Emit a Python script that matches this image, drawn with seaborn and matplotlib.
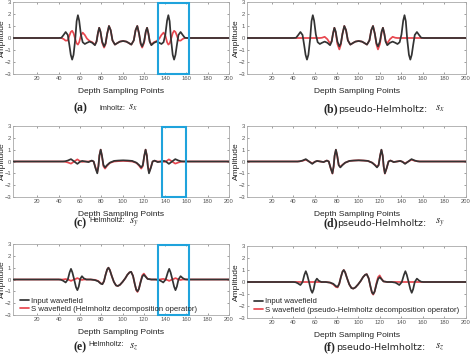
import matplotlib
matplotlib.use('Agg')
import matplotlib.pyplot as plt
from matplotlib.patches import Rectangle
import seaborn as sns

# ---- data (depth sample, amplitude) ----
# s_x component: input wavefield and the two S-wave results
depth_sx = [-3, 40, 42.5, 44.5, 46.5, 48.5, 50, 51.3, 52.6, 53.9, 55.5, 56.8, 58, 59.2, 60.8, 62.5,
            64.5, 66.5, 69, 71.5, 74, 75.5, 76.8, 78, 79.2, 80.8, 82.6, 84, 85.5, 87.2, 88.8,
            90.5, 92.8, 95.5, 97.5, 100.5, 103.5, 105.5, 108.2, 110.5, 112.2, 113.8, 115.5, 117,
            118.4, 120.2, 121.8, 123, 124.2, 125.5, 127, 129.5, 132, 134.5, 136.5, 138.5, 140.2,
            141.8, 143, 144.2, 145.5, 147.1, 148.4, 149.7, 151, 152.5, 154.5, 156.5, 158.5, 161, 200]
input_sx = [0, 0, 0.02, 0.25, 0.5, 0.25, -0.6, -1.4, -1.8, -1.4, -0.1, 1.4, 1.9, 1.45, 0.3, -0.35,
            -0.5, -0.4, -0.3, -0.4, -0.6, -0.3, 0.4, 0.85, 0.55, -0.3, -0.7, -0.45, 0.35, 1.0, 0.65,
            -0.2, -0.55, -0.4, -0.3, -0.25, -0.3, -0.4, -0.55, -0.2, 0.65, 1.0, 0.35, -0.45,
            -0.7, -0.3, 0.55, 0.85, 0.4, -0.3, -0.6, -0.4, -0.3, -0.4, -0.5, -0.35, 0.3,
            1.45, 1.9, 1.4, -0.1, -1.4, -1.8, -1.4, -0.6, 0.25, 0.5, 0.25, 0.02, 0, 0]
helm_sx = [0, 0, 0, -0.08, -0.22, -0.2, 0.2, 0.5, 0.6, 0.4, -0.1, -0.45, -0.55, -0.35, 0.2, 0.45,
           0.25, -0.05, -0.25, -0.35, -0.55, -0.3, 0.4, 0.85, 0.5, -0.4, -0.8, -0.5, 0.35, 1.0, 0.65,
           -0.2, -0.55, -0.4, -0.3, -0.25, -0.3, -0.4, -0.55, -0.2, 0.65, 1.0, 0.35, -0.5,
           -0.8, -0.4, 0.5, 0.85, 0.4, -0.3, -0.55, -0.35, -0.25, -0.05, 0.25, 0.45, 0.2,
           -0.35, -0.55, -0.45, -0.1, 0.4, 0.6, 0.5, 0.2, -0.2, -0.22, -0.08, 0, 0, 0]
pseudo_sx = [0, 0, 0, 0, 0, 0, 0, 0, 0, 0, 0, 0, 0, 0, 0, 0,
             0, 0.02, 0.1, -0.1, -0.45, -0.25, 0.4, 0.85, 0.45, -0.5, -0.95, -0.55, 0.35, 1.0, 0.65,
             -0.2, -0.55, -0.4, -0.3, -0.25, -0.3, -0.4, -0.55, -0.2, 0.65, 1.0, 0.35, -0.55,
             -0.95, -0.5, 0.45, 0.85, 0.4, -0.25, -0.45, -0.1, 0.1, 0.02, 0, 0, 0,
             0, 0, 0, 0, 0, 0, 0, 0, 0, 0, 0, 0, 0, 0]

# s_y component
depth_sy = [-3, 44, 46, 48.5, 51.5, 54.5, 57.5, 60, 62, 65, 68, 71, 72.8, 74.5, 76.2, 77.3, 78.2,
            79.4, 80.6, 82, 83.5, 85.5, 88, 92, 96, 100.5, 105, 109, 113, 115.5, 117.5, 119,
            120.4, 121.6, 122.8, 123.7, 124.8, 126.5, 128.2, 130, 133, 136, 139, 141, 143.5,
            146.5, 149.5, 152.5, 155, 157, 200]
input_sy = [0, 0, 0.02, 0.08, 0.2, 0, -0.2, -0.02, 0.05, 0, -0.05, 0.08, 0, -0.55, -1.0, -0.4, 0.5,
            1.0, 0.5, -0.3, -0.5, -0.3, -0.1, 0.05, 0.08, 0.1, 0.08, 0.05, -0.1, -0.3, -0.5, -0.3,
            0.5, 1.0, 0.5, -0.4, -1.0, -0.55, 0, 0.08, -0.05, 0, 0.05, -0.02, -0.2,
            0, 0.2, 0.08, 0.02, 0, 0]
helm_sy = [0, 0, -0.02, -0.08, -0.18, 0, 0.18, 0.02, -0.03, 0, 0, 0.05, 0, -0.5, -0.9, -0.35, 0.5,
           1.0, 0.45, -0.4, -0.6, -0.35, -0.12, 0, 0.03, 0.05, 0.03, 0, -0.12, -0.35, -0.6, -0.4,
           0.45, 1.0, 0.5, -0.35, -0.9, -0.5, 0, 0.05, 0, 0, -0.03, 0.02, 0.18,
           0, -0.18, -0.08, -0.02, 0, 0]
pseudo_sy = [0, 0, 0.02, 0.06, 0.15, 0, -0.15, -0.02, 0.04, 0, -0.04, 0.08, 0, -0.55, -1.02, -0.45, 0.45,
             0.98, 0.5, -0.3, -0.45, -0.28, -0.1, 0.05, 0.08, 0.1, 0.08, 0.05, -0.1, -0.28, -0.45, -0.3,
             0.5, 0.98, 0.45, -0.45, -1.02, -0.55, 0, 0.08, -0.04, 0, 0.04, -0.02, -0.15,
             0, 0.15, 0.06, 0.02, 0, 0]

# s_z component
depth_sz = [-3, 40, 42, 44, 46.5, 48.5, 50.2, 51.5, 52.8, 54.5, 56.2, 57.5, 58.8, 60.2, 61.8,
            63.5, 66, 70, 74, 77, 79.5, 81, 82.5, 84, 85.5, 86.7, 88, 89.8, 91.8, 93.8,
            95.5, 97.5, 100, 102.5, 104.5, 106.5, 108, 109.8, 111.5, 112.8, 114, 115.3, 117, 118.5,
            120, 121.5, 123.5, 127, 131, 134.5, 136.5, 138.2, 140.5, 142.5, 143.8, 145.1, 146.8,
            148.4, 149.7, 151, 152.5, 154.5, 156.5, 158.5, 160.5, 200]
input_sz = [0, 0, -0.02, -0.1, -0.25, 0, 0.6, 0.9, 0.6, 0, -0.65, -0.9, -0.6, 0.05, 0.28,
            0.1, 0, 0, -0.05, -0.15, -0.35, -0.4, -0.15, 0.4, 0.85, 1.0, 0.8, 0.3, -0.2, -0.5,
            -0.55, -0.45, -0.2, 0.1, 0.4, 0.6, 0.65, 0.3, -0.4, -0.85, -1.0, -0.8, -0.2, 0.25,
            0.4, 0.25, 0.05, 0, 0, -0.05, -0.15, -0.25, 0, 0.6, 0.9, 0.6, 0,
            -0.6, -0.9, -0.6, 0, 0.28, 0.12, 0.02, 0, 0]
helm_sz = [0, 0, 0, 0, 0.04, 0, -0.06, -0.12, -0.06, 0, 0.06, 0.12, 0.06, 0, -0.04,
           0, 0, 0, -0.03, -0.12, -0.32, -0.38, -0.15, 0.4, 0.85, 1.0, 0.8, 0.3, -0.2, -0.5,
           -0.55, -0.45, -0.2, 0.1, 0.4, 0.6, 0.65, 0.3, -0.4, -0.9, -1.05, -0.8, -0.15, 0.35,
           0.5, 0.3, 0.05, 0, 0, 0, 0.03, 0.05, 0, -0.06, -0.12, -0.06, 0,
           0.06, 0.12, 0.06, 0, -0.04, 0, 0, 0, 0]
pseudo_sz = [0, 0, 0, 0, 0, 0, 0, 0, 0, 0, 0, 0, 0, 0, 0,
             0, 0, 0, -0.05, -0.2, -0.42, -0.45, -0.15, 0.4, 0.85, 1.0, 0.8, 0.3, -0.2, -0.5,
             -0.55, -0.45, -0.2, 0.1, 0.4, 0.6, 0.65, 0.3, -0.4, -0.9, -1.05, -0.8, -0.1, 0.4,
             0.55, 0.3, 0.05, 0, 0, 0, 0, 0, 0, 0, 0, 0, 0,
             0, 0, 0, 0, 0, 0, 0, 0, 0]

panel_tags = ['(a)', '(b)', '(c)', '(d)', '(e)', '(f)']
panel_names = ['lmholtz:', 'pseudo-Helmholtz:', 'Helmholtz:', 'pseudo-Helmholtz:',
               'Helmholtz:', 'pseudo-Helmholtz:']
panel_comps = [r'$s_x$', r'$s_x$', r'$s_y$', r'$s_y$', r'$s_z$', r'$s_z$']
legend_labels = ['Input wavefield',
                 'S wavefield (Helmholtz decomposition operator)',
                 'S wavefield (pseudo-Helmholtz decomposition operator)']
x_ticks = [20, 40, 60, 80, 100, 120, 140, 160, 180, 200]
y_ticks = [-3, -2, -1, 0, 1, 2, 3]

# ---- style ----
sns.set_theme(style='white')
plt.rcParams['font.family'] = ['Liberation Sans', 'DejaVu Sans']
plt.rcParams['mathtext.fontset'] = 'stix'

W, H = 474, 354
fig = plt.figure(figsize=(W / 100, H / 100), dpi=100)

BLACK = '#333333'
RED = '#e8474f'
BLUE = '#1fa3dc'
FRAME = '#a8a8a8'

# axes boxes in pixels: left, top, right, bottom
boxes_px = [(13, 2, 229, 74), (247, 2, 466, 74),
            (13, 126, 229, 197), (247, 126, 466, 197),
            (13, 244, 229, 315), (247, 246, 466, 318)]

curves = [(depth_sx, input_sx, helm_sx), (depth_sx, input_sx, pseudo_sx),
          (depth_sy, input_sy, helm_sy), (depth_sy, input_sy, pseudo_sy),
          (depth_sz, input_sz, helm_sz), (depth_sz, input_sz, pseudo_sz)]

# blue highlight windows (depth range) on the Helmholtz panels
highlight = {0: (133.5, 162.5), 2: (137.5, 159.5), 4: (133.5, 162.5)}

# caption positions in pixels: tag x, name x, comp x, y
captions_px = [(73, 100, 128, 108), (323, 338, 435, 109),
               (73, 89, 129, 223), (323, 337, 435, 223),
               (73, 88, 129, 347), (323, 336, 435, 347)]

for i, (l, t, r, b) in enumerate(boxes_px):
    ax = fig.add_axes([l / W, 1 - b / H, (r - l) / W, (b - t) / H])
    depth, inp, swave = curves[i]
    sns.lineplot(x=depth, y=swave, ax=ax, color=RED, lw=1.25, sort=False,
                 estimator=None, zorder=2)
    sns.lineplot(x=depth, y=inp, ax=ax, color=BLACK, lw=1.25, sort=False,
                 estimator=None, zorder=3)
    ax.set_xlim(-3, 200)
    ax.set_ylim(-3, 3)
    ax.set_xticks(x_ticks)
    ax.set_yticks(y_ticks)
    ax.tick_params(direction='in', length=1.5, width=0.5, color='#777777',
                   labelsize=4.2, labelcolor='#555555', pad=1.2,
                   top=True, right=True, bottom=True, left=True)
    for sp in ax.spines.values():
        sp.set_color(FRAME)
        sp.set_linewidth(0.6)
    ax.set_xlabel('Depth Sampling Points', fontsize=6, labelpad=5, color='#222222')
    ax.set_ylabel('Amplitude', fontsize=6, color='#222222')
    # label hugs the tick numbers: its right edge 7 px left of the frame
    ax.yaxis.set_label_coords(-7 / (r - l), 0.5)

    if i in highlight:
        x0, x1 = highlight[i]
        ax.add_patch(Rectangle((x0, -3), x1 - x0, 5.9, fill=False, ec=BLUE,
                               lw=1.5, zorder=5, clip_on=False))

    if i >= 4:
        lines = ax.get_lines()
        lab = legend_labels[1] if i == 4 else legend_labels[2]
        ax.legend([lines[1], lines[0]], [legend_labels[0], lab], loc='lower left',
                  bbox_to_anchor=(0.033, 0.03 if i == 4 else 0.06), frameon=False,
                  fontsize=5.6, handlelength=1.1, handletextpad=0.3, labelspacing=0.1,
                  borderaxespad=0, borderpad=0)

    tx, nx, cx, cy = captions_px[i]
    fig.text(tx / W, 1 - cy / H, panel_tags[i], family='Liberation Serif',
             weight='bold', fontsize=8.5, va='center')
    if i % 2 == 0:
        name_dy = -3 if i > 0 else 0
        fig.text(nx / W, 1 - (cy + name_dy) / H, panel_names[i], fontsize=5.4, va='center')
    else:
        fig.text(nx / W, 1 - cy / H, panel_names[i], family='DejaVu Sans',
                 fontsize=6.8, va='center')
    fig.text(cx / W, 1 - cy / H, panel_comps[i], fontsize=8, va='center')

fig.savefig('out.png', dpi=100)
